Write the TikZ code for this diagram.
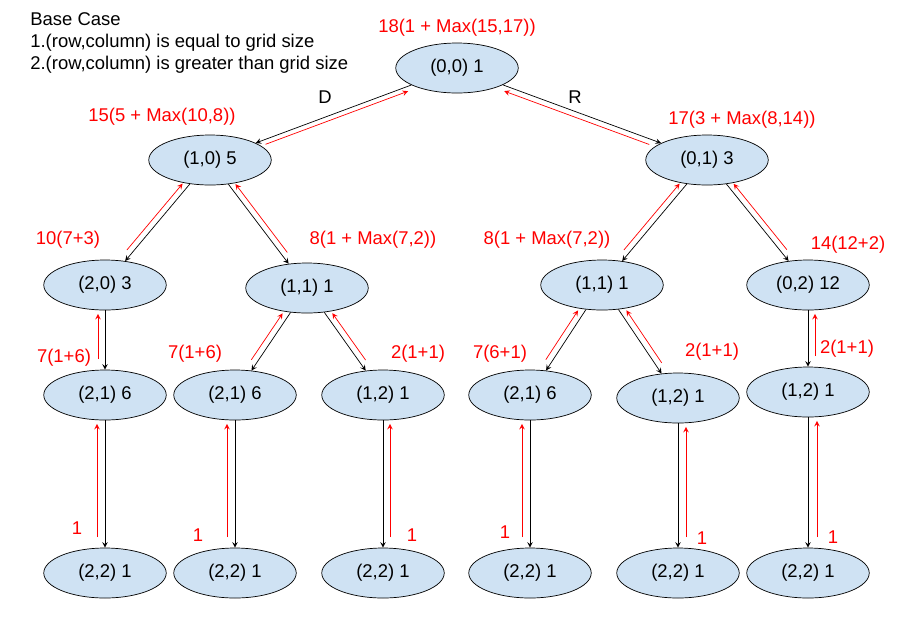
\documentclass[tikz,border=0pt]{standalone}
\usepackage{fontspec}
\setmainfont{Liberation Sans}
\usetikzlibrary{shapes.geometric}
\definecolor{cellblue}{RGB}{207,226,243}

\begin{document}
\begin{tikzpicture}%
  [x=0.02cm,y=-0.02cm,font=\fontsize{10.5}{12.5}\selectfont,
   cell/.style=
    {ellipse,draw,fill=cellblue,minimum width=2.45cm,minimum height=1cm,inner sep=0pt},
   call/.style={-stealth},
   back/.style={red,-stealth,shorten <=6pt,shorten >=2pt},
   note/.style={red,inner sep=1pt}
  ]
  \useasboundingbox (0,0) rectangle (920,620);
  \node[align=left,anchor=north west,inner sep=0pt] (base) at (30,12)
    {Base Case\\1.(row,column) is equal to grid size\\2.(row,column) is greater than grid size};
  % tree
  \node[cell] (r) at (457,68) {(0,0) 1};
  \node[cell] (a) at (210,160) {(1,0) 5};
  \node[cell] (b) at (707,160) {(0,1) 3};
  \node[cell] (a1) at (105,285) {(2,0) 3};
  \node[cell] (a2) at (307,288) {(1,1) 1};
  \node[cell] (b1) at (602,285) {(1,1) 1};
  \node[cell] (b2) at (808,285) {(0,2) 12};
  \node[cell] (c1) at (105,395) {(2,1) 6};
  \node[cell] (c2) at (235,395) {(2,1) 6};
  \node[cell] (c3) at (383,395) {(1,2) 1};
  \node[cell] (c4) at (530,395) {(2,1) 6};
  \node[cell] (c5) at (678,398) {(1,2) 1};
  \node[cell] (c6) at (808,392) {(1,2) 1};
  \foreach \i/\x in {1/105,2/235,3/383,4/530,5/678,6/808}
    \node[cell] (d\i) at (\x,573) {(2,2) 1};
  % calls and returns
  \foreach \p/\c/\dx/\dy in {r/a/0/5, r/b/-2/5, a/a1/-5/-3, a/a2/5/-3, b/b1/-5/-3, b/b2/5/-3,
      a1/c1/-7/0, a2/c2/-6/-2, a2/c3/6/-2, b1/c4/-6/-2, b1/c5/6/-2, b2/c6/7/0,
      c1/d1/-8/0, c2/d2/-8/0, c3/d3/7/0, c4/d4/-8/0, c5/d5/8/0, c6/d6/9/0}
  {
    \draw[call] (\p) -- (\c);
    \draw[back,transform canvas={shift={(\dx*0.02cm,-\dy*0.02cm)}}] (\c) -- (\p);
  }
  \node (dlab) at (325,97) {D};
  \node (rlab) at (575,97) {R};
  % results
  \node[note] at (457,28) {18(1 + Max(15,17))};
  \node[note] at (162,117) {15(5 + Max(10,8))};
  \node[note] at (742,120) {17(3 + Max(8,14))};
  \node[note] at (68,240) {10(7+3)};
  \node[note] at (373,240) {8(1 + Max(7,2))};
  \node[note] at (547,240) {8(1 + Max(7,2))};
  \node[note] at (848,245) {14(12+2)};
  \node[note] at (64,358) {7(1+6)};
  \node[note] at (195,354) {7(1+6)};
  \node[note] at (418,354) {2(1+1)};
  \node[note] at (500,354) {7(6+1)};
  \node[note] at (712,352) {2(1+1)};
  \node[note] at (847,349) {2(1+1)};
  \foreach \x/\y in {77/528,198/535,412/535,505/532,702/538,833/537}
    \node[note] at (\x,\y) {1};
\end{tikzpicture}
\end{document}
